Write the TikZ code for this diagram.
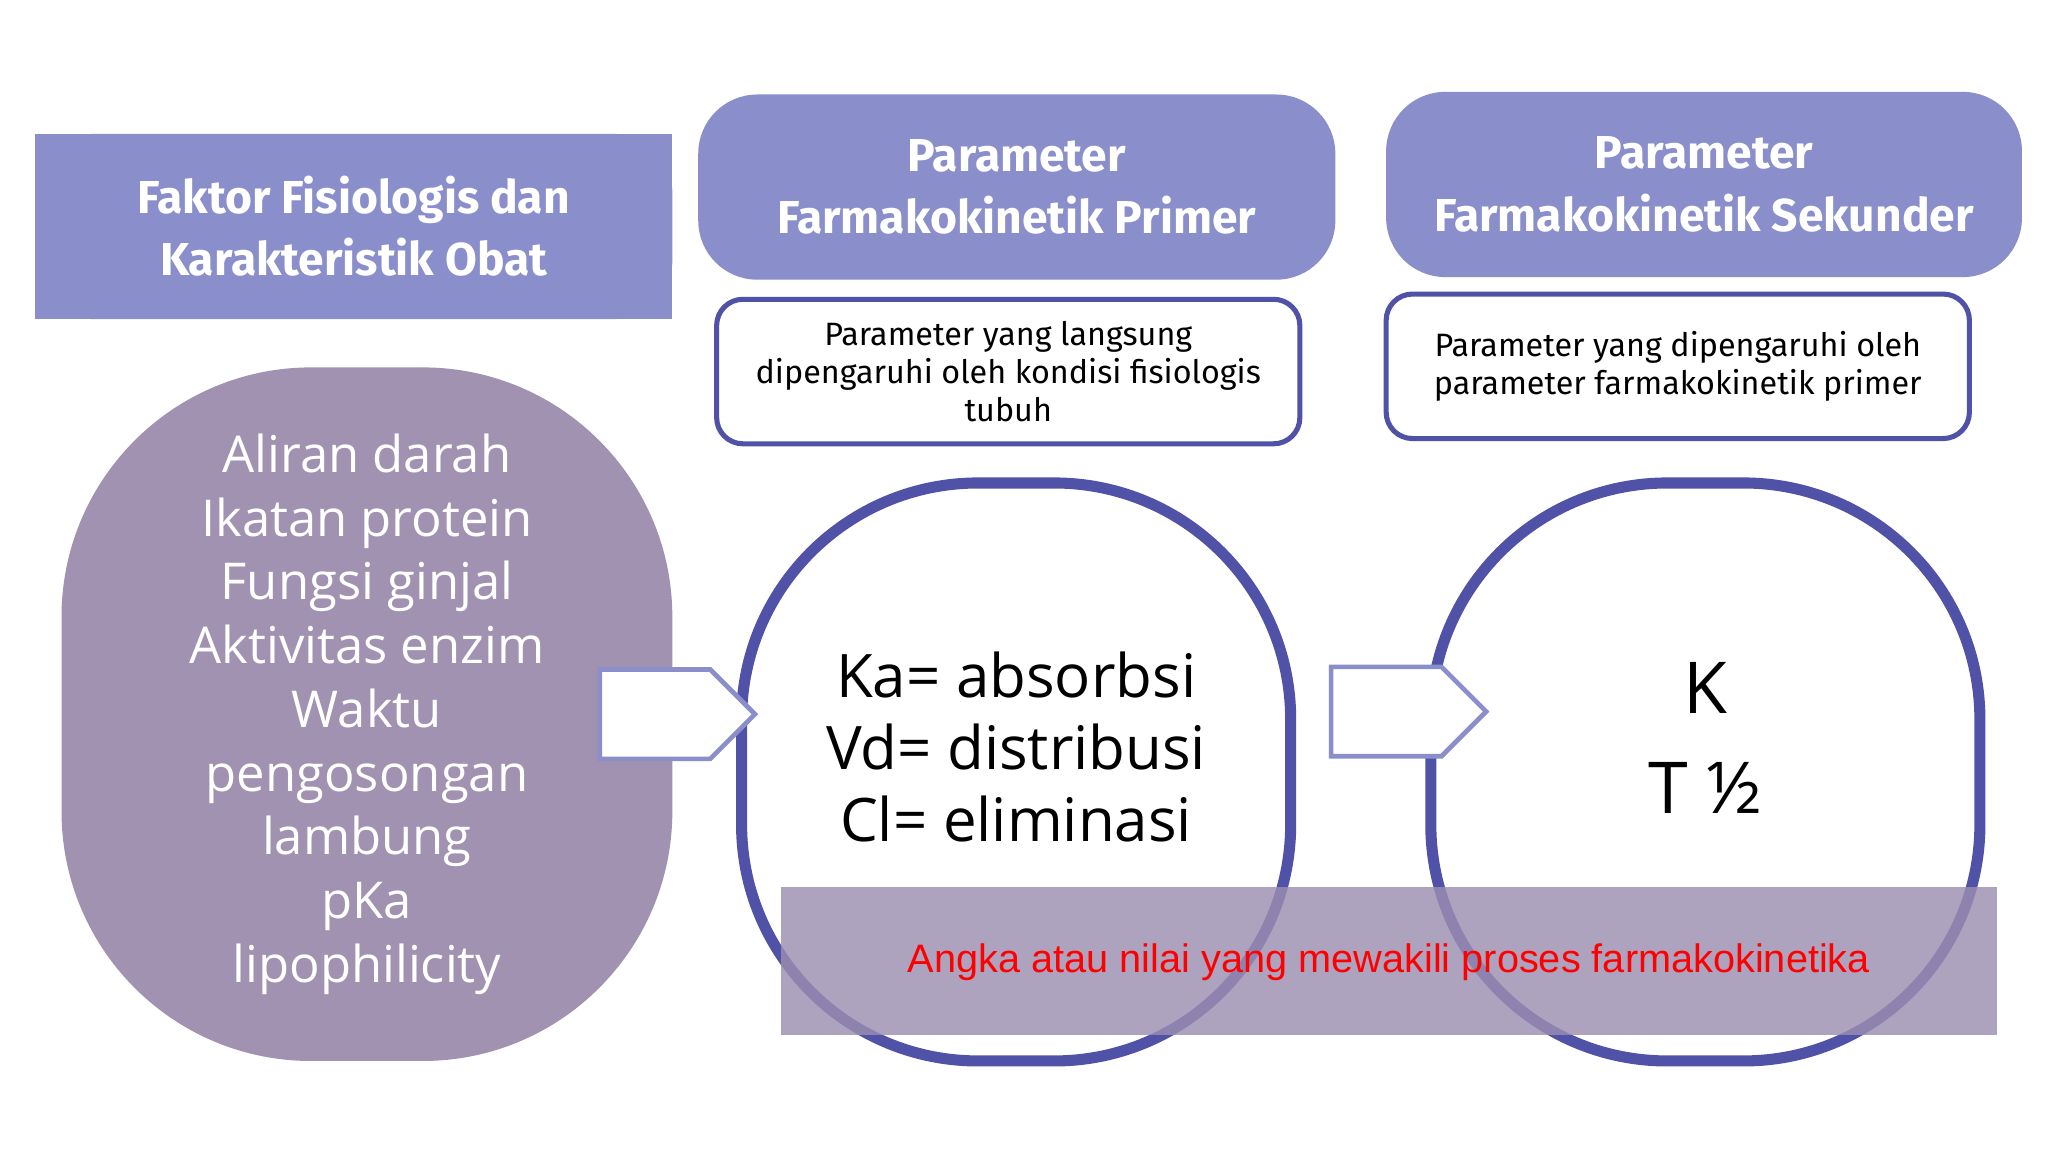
\documentclass[tikz,border=0pt]{standalone}
\usepackage{fontspec}
\setmainfont{Open Sans}
\newfontfamily\headfont{Fira Sans}
\newfontfamily\notefont{Fira Sans}
\usetikzlibrary{shapes.arrows}
\definecolor{hdr}{HTML}{8A8FCB}
\definecolor{mauve}{HTML}{A092B0}
\definecolor{bord}{HTML}{5052A8}
\definecolor{ovl}{HTML}{9C8FB0}
\begin{document}
\begin{tikzpicture}[x=0.01cm,y=-0.01cm,
  hdrbox/.style={fill=hdr,rounded corners=0.45cm,align=center,text=white,font=\headfont\bfseries\fontsize{10}{13.5}\selectfont},
  notebox/.style={draw=bord,line width=1.1pt,fill=white,rounded corners=0.2cm,align=center,font=\notefont\fontsize{7}{8.3}\selectfont},
  bigbox/.style={draw=bord,line width=2.4pt,fill=white,rounded corners=1.8cm},
  blockarrow/.style={single arrow,draw=hdr,line width=1pt,fill=white,minimum height=1.18cm,minimum width=0.68cm,single arrow head extend=0cm,inner sep=0pt}]
\useasboundingbox (0,0) rectangle (1560,877.5);
\fill[white] (0,0) rectangle (1560,877.5);
\fill[hdr] (27,102) rectangle (512,243) [rounded corners=0pt];
\node[hdrbox,minimum width=4.85cm,minimum height=1.41cm] (h1) at (269.5,172.5) {Faktor Fisiologis dan\\Karakteristik Obat};
\node[hdrbox,minimum width=4.85cm,minimum height=1.41cm] (h2) at (774.5,142.5) {Parameter\\Farmakokinetik Primer};
\node[hdrbox,minimum width=4.84cm,minimum height=1.41cm] (h3) at (1298,140.5) {Parameter\\Farmakokinetik Sekunder};
\node[notebox,minimum width=4.44cm,minimum height=1.10cm] (n2) at (768,283) {Parameter yang langsung\\dipengaruhi oleh kondisi fisiologis\\tubuh};
\node[notebox,minimum width=4.44cm,minimum height=1.10cm] (n3) at (1278,279) {Parameter yang dipengaruhi oleh\\parameter farmakokinetik primer};
\node[fill=mauve,rounded corners=1.9cm,minimum width=4.65cm,minimum height=5.28cm,align=center,text=white,font=\fontsize{11}{13.8}\selectfont] (left) at (279.5,544) {Aliran darah\\Ikatan protein\\Fungsi ginjal\\Aktivitas enzim\\Waktu\\pengosongan\\lambung\\pKa\\lipophilicity};
\node[bigbox,minimum width=4.18cm,minimum height=4.40cm] (b2) at (774,588) {};
\node[bigbox,minimum width=4.18cm,minimum height=4.40cm] (b3) at (1299,588) {};
\node[align=center,font=\fontsize{13}{15.5}\selectfont] (t2) at (774,569) {Ka= absorbsi\\Vd= distribusi\\Cl= eliminasi};
\node[align=center,font=\fontsize{15.5}{21.5}\selectfont] (t3) at (1299,562) {K\\T ½};
\node[blockarrow] (a1) at (499,544) {};
\node[blockarrow] (a2) at (1056,542) {};
\fill[ovl,opacity=0.82] (595,676) rectangle (1521,788);
\node[text=red,font=\fontsize{8.6}{10}\selectfont\sffamily] (cap) at (1058,733) {\setmainfont{Liberation Sans}\rmfamily Angka atau nilai yang mewakili proses farmakokinetika};
\end{tikzpicture}
\end{document}
